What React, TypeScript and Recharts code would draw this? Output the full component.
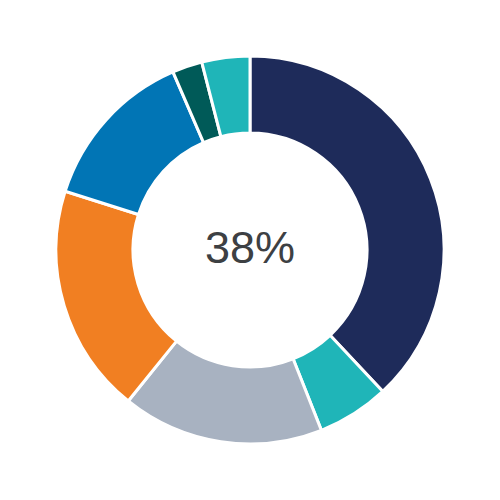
import { PieChart, Pie, Cell } from 'recharts';

const SEGMENTS = ['A', 'B', 'C', 'D', 'E', 'F', 'G'];
const SHARES = [38, 6, 16.8, 19.1, 13.6, 2.5, 4];
const COLORS = ['#1e2b5a', '#1fb5b8', '#a8b2c1', '#f17f22', '#0175b5', '#005a58', '#1fb5b8'];
const CENTER_LABEL = '38%';

const data = SEGMENTS.map((name, i) => ({ name, value: SHARES[i] }));

export default function App() {
  return (
    <div style={{ position: 'fixed', left: 0, top: 0, width: 500, height: 500, background: '#fff' }}>
      <PieChart width={500} height={500} margin={{ top: 0, right: 0, bottom: 0, left: 0 }}>
        <Pie
          data={data}
          dataKey="value"
          nameKey="name"
          cx={250}
          cy={250}
          innerRadius={117}
          outerRadius={194}
          startAngle={90}
          endAngle={-270}
          stroke="#fff"
          strokeWidth={3}
          isAnimationActive={false}
        >
          {data.map((entry, index) => (
            <Cell key={entry.name} fill={COLORS[index]} />
          ))}
        </Pie>
        <text
          x={250}
          y={247}
          textAnchor="middle"
          dominantBaseline="central"
          fontFamily="Liberation Sans, Arial, sans-serif"
          fontSize={45}
          fill="#3d4043"
        >
          {CENTER_LABEL}
        </text>
      </PieChart>
    </div>
  );
}
